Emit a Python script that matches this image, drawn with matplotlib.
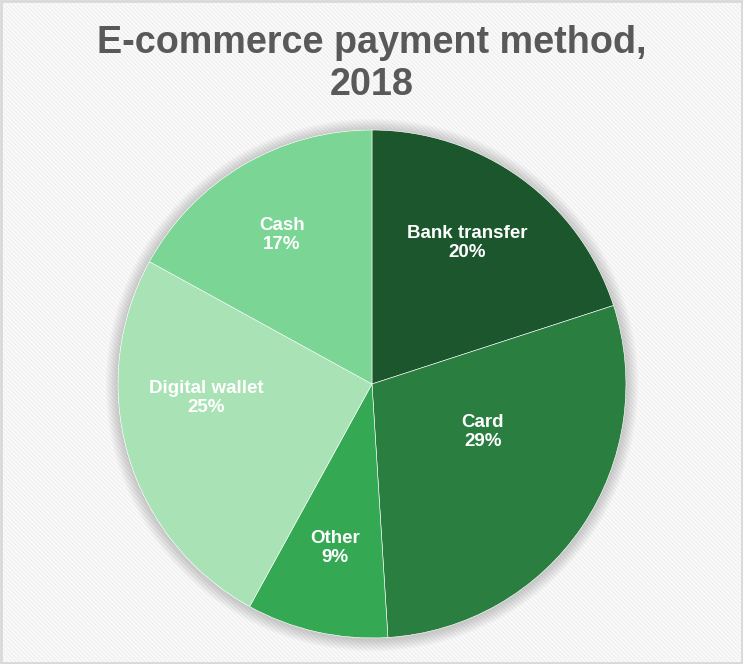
import matplotlib.pyplot as plt
from matplotlib.patches import Rectangle, Circle

# data
methods = ["Bank transfer", "Card", "Other", "Digital wallet", "Cash"]
shares = [20, 29, 9, 25, 17]
colors = ["#1b562d", "#2a7e3f", "#35a853", "#a8e2b5", "#7bd594"]
# label spots, in pie radius units (Excel "best fit")
label_xy = [(0.374, 0.555), (0.437, -0.189), (-0.146, -0.646), (-0.654, -0.055), (-0.354, 0.587)]

plt.rcParams['font.family'] = ['Liberation Sans', 'DejaVu Sans']
plt.rcParams['hatch.linewidth'] = 1.0

fig = plt.figure(figsize=(7.43, 6.64), dpi=100)
fig.patch.set_facecolor('white')

# hatched background + thin border
bg = Rectangle((0, 0), 1, 1, transform=fig.transFigure, facecolor='#fbfbfb',
               edgecolor='#f0f0f0', hatch='\\' * 8, linewidth=0, zorder=-10)
fig.patches.append(bg)
border = Rectangle((0.002, 0.002), 0.996, 0.996, transform=fig.transFigure, fill=False,
                   edgecolor='#d9d9d9', linewidth=2, zorder=10)
fig.patches.append(border)

fig.text(0.5, 0.904, "E-commerce payment method,\n2018", ha='center', va='center',
         fontsize=27.2, fontweight='bold', color='#595959', linespacing=1.23)

ax = fig.add_axes([0.1588, 0.0392, 0.6837, 0.765])

# soft shadow round the pie
for i in range(8):
    ax.add_patch(Circle((0, -0.004), 1.0 + 0.006 * (i + 1), facecolor='black',
                        alpha=0.022, linewidth=0, zorder=0, clip_on=False))
ax.add_patch(Circle((0, 0), 1.0, facecolor='white', linewidth=0, zorder=0.5, clip_on=False))

wedges, _ = ax.pie(shares, colors=colors, startangle=90, counterclock=False, radius=1.0,
                   wedgeprops=dict(edgecolor='white', linewidth=0.4, clip_on=False), frame=True)
ax.set_xlim(-1, 1)
ax.set_ylim(-1, 1)
ax.set_aspect('equal')
ax.axis('off')

for name, val, (lx, ly) in zip(methods, shares, label_xy):
    ax.text(lx, ly, f"{name}\n{val}%", ha='center', va='center', color='white',
            fontsize=13.5, fontweight='bold', linespacing=1.2)

fig.savefig("out.png", dpi=100)
